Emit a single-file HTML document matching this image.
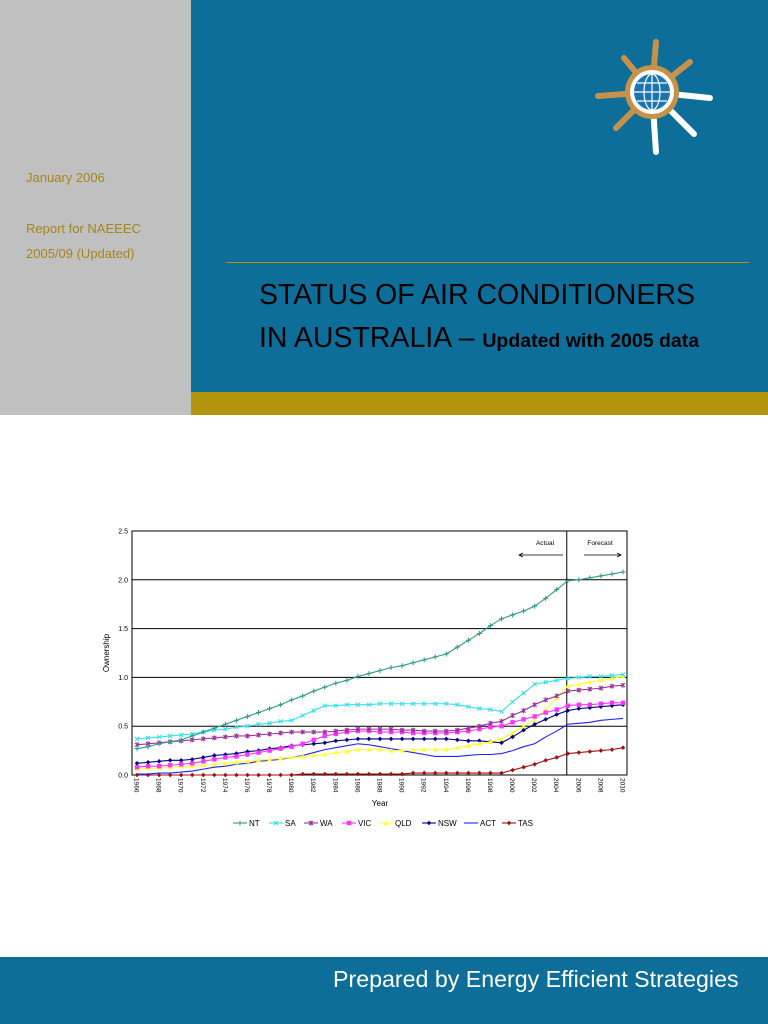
<!DOCTYPE html>
<html><head><meta charset="utf-8"><style>
body{margin:0;width:768px;height:1024px;position:relative;background:#fff;font-family:"Liberation Sans",sans-serif;overflow:hidden}
div{position:absolute}
</style></head><body>
<div style="left:0;top:0;width:191px;height:415px;background:#c0c0c0"></div>
<div style="left:191px;top:0;width:577px;height:392px;background:#0c6e99"></div>
<div style="left:191px;top:392px;width:577px;height:23px;background:#b5940d"></div>
<div style="left:26px;top:170px;font-size:13px;color:#a4861a">January 2006</div>
<div style="left:26px;top:216px;font-size:13px;line-height:25px;color:#a4861a">Report for NAEEEC<br>2005/09 (Updated)</div>
<div style="left:226px;top:262px;width:523px;height:1px;background:#b5940d"></div>
<div style="left:259px;top:274px;font-size:28.5px;line-height:43px;color:#000;white-space:nowrap">STATUS OF AIR CONDITIONERS<br>IN AUSTRALIA – <span style="font-size:19.5px;font-weight:bold">Updated with 2005 data</span></div>
<svg style="position:absolute;left:590px;top:36px" width="130" height="120" viewBox="0 0 130 120">
<g stroke-linecap="round" stroke-width="6">
<line x1="62" y1="56" x2="66" y2="6" stroke="#c4924a"/><line x1="62" y1="56" x2="34" y2="22" stroke="#c4924a"/><line x1="62" y1="56" x2="100" y2="26" stroke="#c4924a"/><line x1="62" y1="56" x2="8" y2="60" stroke="#c4924a"/><line x1="62" y1="56" x2="26" y2="92" stroke="#c4924a"/>
<line x1="62" y1="56" x2="120" y2="62" stroke="#fff"/><line x1="62" y1="56" x2="104" y2="98" stroke="#fff"/><line x1="62" y1="56" x2="66" y2="116" stroke="#fff"/></g>
<circle cx="62" cy="56" r="27" fill="#c4924a"/><circle cx="62" cy="56" r="22" fill="#fff"/><circle cx="62" cy="56" r="18" fill="#1a74b0"/>
<g stroke="#fff" stroke-width="1.2" fill="none"><ellipse cx="62" cy="56" rx="8" ry="18"/><line x1="62" y1="38" x2="62" y2="74"/><line x1="44" y1="56" x2="80" y2="56"/><line x1="47" y1="47" x2="77" y2="47"/><line x1="47" y1="65" x2="77" y2="65"/></g></svg>
<svg id="chart" style="position:absolute;left:0;top:520px" width="768" height="320" font-family="Liberation Sans, sans-serif"></svg>
<div style="left:0;top:957px;width:768px;height:67px;background:#0c6e99"></div>
<div style="left:333px;top:966px;font-size:23.2px;color:#fff;white-space:nowrap">Prepared by Energy Efficient Strategies</div>
<script>
const years=[];for(let y=1966;y<=2010;y++)years.push(y);
const yTicks=[0,0.5,1.0,1.5,2.0,2.5];
const seriesNames=["NT","SA","WA","VIC","QLD","NSW","ACT","TAS"];
const NT=[0.27,0.29,0.32,0.34,0.36,0.40,0.44,0.48,0.52,0.56,0.60,0.64,0.68,0.72,0.77,0.81,0.86,0.90,0.94,0.97,1.01,1.04,1.07,1.10,1.12,1.15,1.18,1.21,1.24,1.31,1.38,1.45,1.53,1.60,1.64,1.68,1.73,1.81,1.90,1.99,2.00,2.02,2.04,2.06,2.08];
const SA=[0.37,0.38,0.39,0.40,0.41,0.42,0.44,0.46,0.47,0.49,0.50,0.52,0.53,0.55,0.56,0.61,0.66,0.71,0.71,0.72,0.72,0.72,0.73,0.73,0.73,0.73,0.73,0.73,0.73,0.72,0.70,0.68,0.67,0.65,0.75,0.84,0.93,0.95,0.97,0.99,1.00,1.01,1.01,1.02,1.03];
const WA=[0.31,0.32,0.33,0.34,0.35,0.36,0.37,0.38,0.39,0.40,0.40,0.41,0.42,0.43,0.44,0.44,0.44,0.44,0.45,0.46,0.47,0.47,0.47,0.47,0.46,0.46,0.45,0.45,0.45,0.46,0.48,0.50,0.53,0.55,0.61,0.66,0.72,0.77,0.81,0.86,0.87,0.88,0.89,0.91,0.92];
const VIC=[0.08,0.09,0.09,0.10,0.11,0.12,0.14,0.16,0.18,0.19,0.21,0.23,0.25,0.27,0.29,0.32,0.36,0.40,0.42,0.44,0.45,0.45,0.44,0.44,0.44,0.43,0.43,0.43,0.43,0.44,0.45,0.47,0.49,0.50,0.54,0.57,0.60,0.64,0.67,0.71,0.72,0.72,0.73,0.74,0.74];
const QLD=[0.06,0.07,0.07,0.08,0.09,0.09,0.10,0.11,0.12,0.13,0.14,0.15,0.16,0.17,0.18,0.19,0.20,0.21,0.23,0.24,0.26,0.26,0.26,0.25,0.25,0.26,0.26,0.26,0.26,0.28,0.30,0.32,0.34,0.37,0.43,0.50,0.57,0.67,0.79,0.91,0.93,0.95,0.97,0.99,1.01];
const NSW=[0.12,0.13,0.14,0.15,0.15,0.16,0.18,0.20,0.21,0.22,0.24,0.25,0.27,0.28,0.30,0.31,0.32,0.33,0.35,0.36,0.37,0.37,0.37,0.37,0.37,0.37,0.37,0.37,0.37,0.36,0.35,0.35,0.34,0.33,0.39,0.46,0.52,0.57,0.62,0.66,0.68,0.69,0.70,0.71,0.72];
const ACT=[0.01,0.01,0.02,0.02,0.03,0.04,0.06,0.08,0.09,0.11,0.12,0.14,0.15,0.16,0.18,0.20,0.23,0.26,0.28,0.30,0.32,0.31,0.29,0.27,0.25,0.23,0.21,0.19,0.19,0.19,0.20,0.21,0.21,0.22,0.25,0.29,0.32,0.39,0.45,0.52,0.53,0.54,0.56,0.57,0.58];
const TAS=[0,0,0,0,0,0,0,0,0,0,0,0,0,0,0,0.01,0.01,0.01,0.01,0.01,0.01,0.01,0.01,0.01,0.01,0.02,0.02,0.02,0.02,0.02,0.02,0.02,0.02,0.02,0.05,0.08,0.11,0.15,0.18,0.22,0.23,0.24,0.25,0.26,0.28];
const forecastYear=2005;
const svg=document.getElementById('chart');const NS='http://www.w3.org/2000/svg';
function el(t,a,p){const e=document.createElementNS(NS,t);for(const k in a)e.setAttribute(k,a[k]);(p||svg).appendChild(e);return e;}
const L=132,R=627,T=11,B=255;
const xs=y=>137+(y-1966)*(623-137)/44;
const ys=v=>B-(v/2.5)*(B-T);
let e=el('rect',{x:L,y:T,width:R-L,height:B-T,fill:'#fff',stroke:'#000','stroke-width':1});

yTicks.forEach(v=>{
 if(v>0&&v<2.5){const g=el('line',{x1:L,x2:R,y1:ys(v),y2:ys(v),stroke:'#000','stroke-width':1});}
 const t=el('text',{x:L-4,y:ys(v)+2.5,'font-size':7,'text-anchor':'end'});t.textContent=v.toFixed(1);
 
});
years.forEach(y=>{if((y-1966)%2===0){const t=el('text',{transform:`translate(${xs(y)-2.5},${B+3}) rotate(90)`,'font-size':6.5});t.textContent=y;
 }});
const fx=xs(forecastYear)-1;
e=el('line',{x1:fx,x2:fx,y1:T,y2:B,stroke:'#000','stroke-width':1});
e=el('text',{x:545,y:25,'font-size':6.5,'text-anchor':'middle'});e.textContent='Actual';
e=el('text',{x:600,y:25,'font-size':6.5,'text-anchor':'middle'});e.textContent='Forecast';
e=el('path',{d:`M563 35H519M523 33L519 35L523 37M584 35H621M617 33L621 35L617 37`,stroke:'#000',fill:'none','stroke-width':0.8});
e=el('text',{x:380,y:286,'font-size':8,'text-anchor':'middle'});e.textContent='Year';
e=el('text',{transform:'translate(109,133) rotate(-90)','font-size':8,'text-anchor':'middle'});e.textContent='Ownership';
const datas=[NT,SA,WA,VIC,QLD,NSW,ACT,TAS];
const colors=['#2e9a8e','#33e0f0','#993399','#ff33ff','#ffff33','#000080','#2020ff','#a01010'];
const marks=['+','x','*','sq','tri','dia','none','dia'];
function marker(g,m,x,y,c){
 if(m==='+')el('path',{d:`M${x-2.5} ${y}h5M${x} ${y-2.5}v5`,stroke:c,'stroke-width':1},g);
 else if(m==='x')el('path',{d:`M${x-2} ${y-2}l4 4M${x-2} ${y+2}l4 -4`,stroke:c,'stroke-width':1},g);
 else if(m==='*')el('path',{d:`M${x-2} ${y-2}l4 4M${x-2} ${y+2}l4 -4M${x} ${y-2.5}v5`,stroke:c,'stroke-width':1},g);
 else if(m==='sq')el('rect',{x:x-2.2,y:y-2.2,width:4.4,height:4.4,fill:c},g);
 else if(m==='tri')el('path',{d:`M${x} ${y-2.5}L${x+2.5} ${y+2}L${x-2.5} ${y+2}Z`,fill:c},g);
 else if(m==='dia')el('path',{d:`M${x} ${y-2.3}L${x+2.3} ${y}L${x} ${y+2.3}L${x-2.3} ${y}Z`,fill:c},g);
}
for(let s=datas.length-1;s>=0;s--){
 const g=el('g',{});
 el('polyline',{points:datas[s].map((v,i)=>xs(years[i])+','+ys(v)).join(' '),fill:'none',stroke:colors[s],'stroke-width':1.1},g);
 datas[s].forEach((v,i)=>marker(g,marks[s],xs(years[i]),ys(v),colors[s]));
}
const lw=[36,35,38,37,43,42,38,36];let lx=233;
seriesNames.forEach((n,i)=>{const g=el('g',{});
 el('line',{x1:lx,x2:lx+14,y1:303,y2:303,stroke:colors[i],'stroke-width':1.1},g);marker(g,marks[i],lx+7,303,colors[i]);
 const t=el('text',{x:lx+16,y:306,'font-size':8},g);t.textContent=n;lx+=lw[i];});
</script>
</body></html>
